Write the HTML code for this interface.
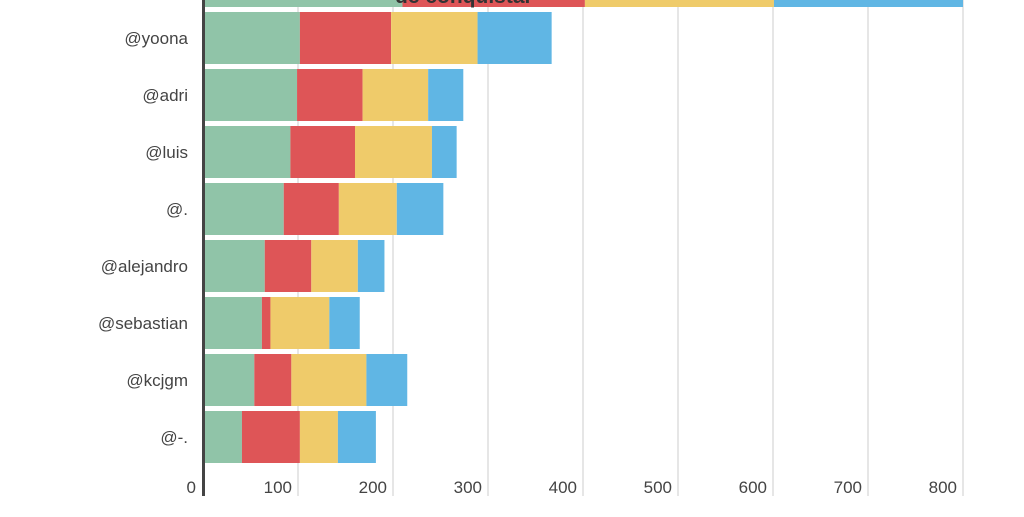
<!DOCTYPE html>
<html><head><meta charset="utf-8"><style>
body{margin:0;background:#fff;overflow:hidden}
svg{font-family:"Liberation Sans",sans-serif}
</style></head><body>
<svg width="1024" height="512">
<g id="grid"></g>
<g id="bars"></g>
<g id="labels"></g>
<text x="395" y="3" font-size="21" font-weight="bold" fill="#333">de conquistar</text>
<line x1="203.5" y1="0" x2="203.5" y2="496" stroke="#444" stroke-width="3"/>
</svg>
<script>
const categories=["","@yoona","@adri","@luis","@.","@alejandro","@sebastian","@kcjgm","@-."];
const s1=[210,102,99,92,85,65,62,54,41];
const s2=[192,96,69,68,58,49,9,39,61];
const s3=[199,91,69,81,61,49,62,79,40];
const s4=[199,78,37,26,49,28,32,43,40];
const ticks=[0,100,200,300,400,500,600,700,800];
const colors=["#90c4a8","#de5557","#efcb6a","#60b6e4"];
const NS="http://www.w3.org/2000/svg";
const x=v=>203+v*0.95;
const yc=i=>-19+i*57;
const bh=52;
const g=document.getElementById('grid'),b=document.getElementById('bars'),l=document.getElementById('labels');
ticks.forEach(t=>{
 if(t>0){const ln=document.createElementNS(NS,'line');
 ln.setAttribute('x1',x(t));ln.setAttribute('x2',x(t));ln.setAttribute('y1',0);ln.setAttribute('y2',496);
 ln.setAttribute('stroke','#ddd');ln.setAttribute('stroke-width','1.5');
 
 
 g.appendChild(ln);}
 const tx=document.createElementNS(NS,'text');
 tx.setAttribute('x',t===0?196:x(t)-6);tx.setAttribute('y',493);tx.setAttribute('text-anchor','end');
 tx.setAttribute('font-size','17');tx.setAttribute('fill','#444');tx.textContent=t;
 
 
 l.appendChild(tx);
});
categories.forEach((c,i)=>{
 let acc=0;
 [s1,s2,s3,s4].forEach((s,k)=>{
  const r=document.createElementNS(NS,'rect');
  r.setAttribute('x',x(acc));r.setAttribute('width',s[i]*0.95);
  r.setAttribute('y',yc(i)-bh/2);r.setAttribute('height',bh);r.setAttribute('fill',colors[k]);
  
  
  b.appendChild(r);acc+=s[i];
 });
 if(c){const tx=document.createElementNS(NS,'text');
 tx.setAttribute('x',188);tx.setAttribute('y',yc(i)+6);tx.setAttribute('text-anchor','end');
 tx.setAttribute('font-size','17');tx.setAttribute('fill','#444');tx.textContent=c;
 
 
 l.appendChild(tx);}
});
</script>
</body></html>
